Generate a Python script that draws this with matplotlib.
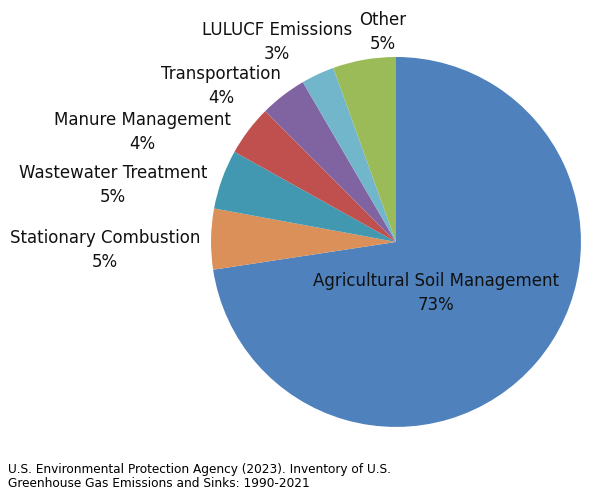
import matplotlib.pyplot as plt

# emission sources, shares (percent)
sources = ["Agricultural Soil Management", "Stationary Combustion", "Wastewater Treatment",
           "Manure Management", "Transportation", "LULUCF Emissions", "Other"]
shares = [72.6, 5.3, 5.2, 4.4, 4.1, 2.9, 5.5]
pct_labels = ["73%", "5%", "5%", "4%", "4%", "3%", "5%"]
colors = ["#4F81BD", "#DA9058", "#4298B0", "#C0504D", "#8064A2", "#72B6CB", "#9BBB59"]

# label anchors in pie-radius units
label_pos = [(0.216, -0.276), (-1.573, -0.043), (-1.530, 0.308), (-1.373, 0.595),
             (-0.946, 0.843), (-0.643, 1.081), (-0.070, 1.135)]

fig = plt.figure(figsize=(6, 5), dpi=100)
ax = fig.add_axes([0, 0, 1, 1])
ax.pie(shares, colors=colors, startangle=90, counterclock=False, radius=1,
       wedgeprops=dict(linewidth=0))
ax.set_xlim(-2.141, 1.103)
ax.set_ylim(-1.395, 1.308)
ax.set_aspect("auto")
ax.axis("off")

for name, pct, (x, y) in zip(sources, pct_labels, label_pos):
    ax.text(x, y, f"{name}\n{pct}", ha="center", va="center", fontsize=12,
            color="#111111", linespacing=1.42)

fig.text(8 / 600, 1 - 476.5 / 500,
         "U.S. Environmental Protection Agency (2023). Inventory of U.S.\nGreenhouse Gas Emissions and Sinks: 1990-2021",
         ha="left", va="center", fontsize=8.7, color="black", linespacing=1.15)

fig.savefig("out.png", dpi=100)
